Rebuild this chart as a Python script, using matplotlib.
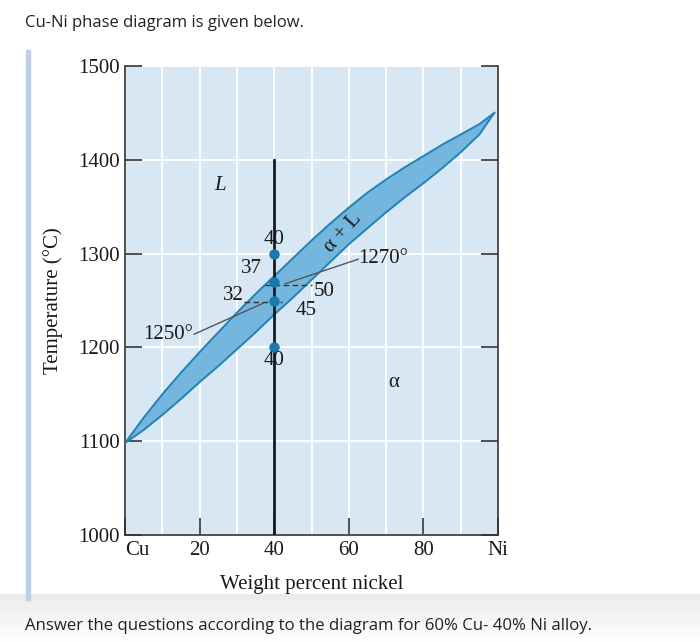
import numpy as np
import matplotlib
matplotlib.use("Agg")
import matplotlib.pyplot as plt
from matplotlib.patches import Rectangle

# phase boundaries (wt% Ni, deg C)
liq_x = [0, 5, 10, 15, 20, 25, 30, 35, 40, 45, 50, 55, 60, 65, 70, 75, 80, 85, 90, 95, 99]
liq_T = [1098, 1125, 1150, 1173, 1195, 1216, 1237, 1257, 1276, 1295, 1314, 1332,
         1349, 1365, 1379, 1392, 1404, 1416, 1427, 1438, 1450]
sol_x = [0, 5, 10, 15, 20, 25, 30, 35, 40, 45, 50, 55, 60, 65, 70, 75, 80, 85, 90, 95, 99]
sol_T = [1098, 1112, 1128, 1145, 1163, 1180, 1198, 1216, 1235, 1253, 1272, 1291,
         1310, 1327, 1344, 1360, 1375, 1391, 1408, 1427, 1450]

# 40% Ni alloy points
alloy_x = 40
alloy_T = [1300, 1270, 1250, 1200]
# tie lines (liquid comp, solid comp, temperature) as drawn
ties = [(37.5, 50, 1266), (32, 42, 1248)]

xticks = [0, 20, 40, 60, 80, 100]
xtick_labels = ["Cu", "20", "40", "60", "80", "Ni"]
yticks = [1000, 1100, 1200, 1300, 1400, 1500]

serif = "Liberation Serif"
ink = "#1a1a1a"
fig = plt.figure(figsize=(7, 6.42), dpi=100)
fig.patch.set_facecolor("white")

# light grey strip at the bottom of the page
bg = fig.add_axes([0, 0, 1, 48 / 642])
grad = np.linspace(0.92, 1.0, 60).reshape(-1, 1)
bg.imshow(np.dstack([grad, grad, grad]), aspect="auto", extent=[0, 1, 0, 1])
bg.axis("off")
# quote bar on the left
fig.patches.append(Rectangle((26 / 700, 1 - 600 / 642), 4 / 700, 550 / 642,
                             transform=fig.transFigure, color="#bdd0e6", zorder=0))

fig.text(25 / 700, 1 - 23 / 642, "Cu-Ni phase diagram is given below.",
         family="Open Sans", fontsize=12, va="center", ha="left", color="#222222")
fig.text(25 / 700, 1 - 626 / 642,
         "Answer the questions according to the diagram for 60% Cu- 40% Ni alloy.",
         family="Open Sans", fontsize=12.1, va="center", ha="left", color="#222222")

ax = fig.add_axes([125 / 700, 1 - 535 / 642, 373 / 700, 469 / 642])
ax.set_facecolor("#d8e7f4")
ax.set_xlim(0, 100)
ax.set_ylim(1000, 1500)

ax.set_xticks(np.arange(0, 101, 10), minor=True)
ax.set_yticks(np.arange(1000, 1501, 100), minor=True)
ax.grid(which="both", color="white", lw=1.3, zorder=0)
ax.set_axisbelow(True)

# two-phase region
ax.fill(liq_x + sol_x[::-1], liq_T + sol_T[::-1], color="#74b6de", zorder=2, lw=0)
ax.plot(liq_x, liq_T, color="#2281b5", lw=1.4, zorder=3)
ax.plot(sol_x, sol_T, color="#2281b5", lw=1.4, zorder=3)

# alloy composition line
ax.plot([alloy_x, alloy_x], [1000, 1400], color=ink, lw=2, zorder=4)
for xl, xs, T in ties:
    ax.plot([xl, xs], [T, T], color="#333333", lw=1, ls=(0, (4, 2.5)), zorder=4)
ax.plot([alloy_x] * len(alloy_T), alloy_T, "o", color="#1b78ab", ms=6.5, zorder=5)

tkw = dict(family=serif, fontsize=15, ha="center", va="center", color=ink, zorder=6)
ax.text(40, 1315, "40", **tkw)
ax.text(40, 1186, "40", **tkw)
ax.text(34, 1284, "37", **tkw)
ax.text(29, 1255, "32", **tkw)
ax.text(53.5, 1260, "50", **tkw)
ax.text(48.5, 1239, "45", **tkw)
ax.text(25.5, 1373, "L", style="italic", **tkw)
ax.text(72, 1163, "α", **tkw)
ax.text(58.5, 1322, "α + L", rotation=48, **tkw)

# leaders
ax.plot([43, 62.5], [1268, 1294], color="#555555", lw=1, zorder=4)
ax.text(62.5, 1295, "1270°", family=serif, fontsize=15, ha="left", va="center", color=ink)
ax.plot([18.5, 37], [1214, 1247], color="#555555", lw=1, zorder=4)
ax.text(18.2, 1214, "1250°", family=serif, fontsize=15, ha="right", va="center", color=ink)

ax.set_xticks(xticks)
ax.set_xticklabels(xtick_labels)
ax.get_xticklabels()[0].set_ha("left")
ax.set_yticks(yticks)
ax.tick_params(which="major", direction="in", length=12, width=1.2, color="#333333",
               left=True, right=True, top=False, bottom=True, labelsize=15, pad=4)
ax.tick_params(which="minor", length=0)
for lab in ax.get_xticklabels() + ax.get_yticklabels():
    lab.set_family(serif)
    lab.set_color(ink)
ax.spines["top"].set_visible(False)
for s in ["left", "right", "bottom"]:
    ax.spines[s].set_color("#333333")
    ax.spines[s].set_linewidth(1.2)

ax.set_xlabel("Weight percent nickel", family=serif, fontsize=15, color=ink, labelpad=11)
ax.set_ylabel("Temperature (°C)", family=serif, fontsize=15, color=ink, labelpad=11)

fig.savefig("out.png", dpi=100)
